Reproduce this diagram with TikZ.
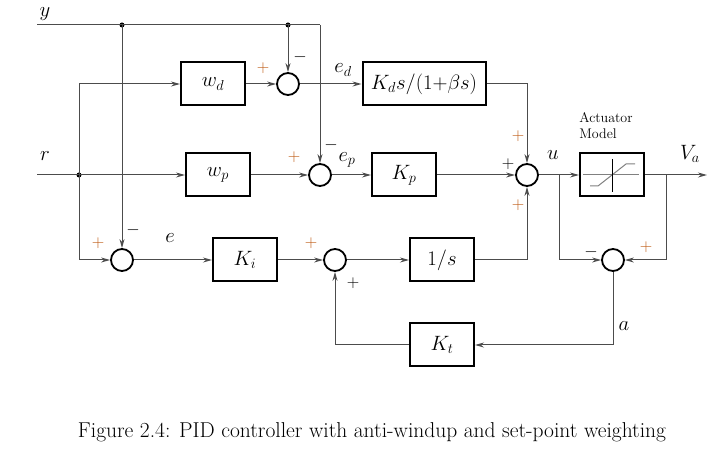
\documentclass[tikz,border=0pt]{standalone}
\usepackage{tikz}
\usetikzlibrary{arrows.meta}
\definecolor{plusc}{RGB}{190,90,20}
\tikzset{
  blk/.style={draw, line width=2pt, minimum width=64pt, minimum height=43pt, inner sep=0pt, font=\fontsize{22}{24}\selectfont},
  sm/.style={draw, line width=1.8pt, circle, minimum size=22pt, inner sep=0pt},
  sig/.style={draw=black!70, line width=1pt, -{Stealth[length=9pt,width=5pt]}},
  wire/.style={draw=black!70, line width=1pt},
  pl/.style={text=plusc, font=\fontsize{17}{19}\selectfont},
  mi/.style={font=\fontsize{17}{19}\selectfont},
  lbl/.style={font=\fontsize{22}{24}\selectfont}
}
\begin{document}
\begin{tikzpicture}[x=1pt,y=-1pt]
   \useasboundingbox (0,0) rectangle (716,454);

   % blocks
   \node[blk] (wd) at (213,84) {$w_d$};
   \node[blk, minimum width=123pt] (kd) at (424,84) {$K_d s/(1{+}\beta s)$};
   \node[blk] (wp) at (218,175) {$w_p$};
   \node[blk] (kp) at (404,175) {$K_p$};
   \node[blk] (act) at (612,175) {};
   \node[blk] (ki) at (245,260) {$K_i$};
   \node[blk] (integ) at (442,260) {$1/s$};
   \node[blk] (kt) at (442,345) {$K_t$};

   % saturation symbol
   \draw[black!50, line width=1pt] (act.west) ++(4,0) -- ++(56,0);
   \draw[black!50, line width=1pt] (590,186) -- (598,186) -- (626,164) -- (635,164);
   \draw[line width=1pt] (612,159) -- (612,192);

   % summing points
   \node[sm] (s1) at (288,84) {};
   \node[sm] (s2) at (320,175) {};
   \node[sm] (s4) at (527,175) {};
   \node[sm] (se) at (122,260) {};
   \node[sm] (si) at (335,260) {};
   \node[sm] (sa) at (613,260) {};

   % signal points
   \coordinate (yin) at (37,25);
   \coordinate (y1) at (122,25);
   \coordinate (y2) at (288,25);
   \coordinate (y3) at (320,25);
   \coordinate (rin) at (37,175);
   \coordinate (r1) at (79,175);
   \coordinate (uu) at (559,175);
   \coordinate (va) at (666,175);
   \coordinate (vout) at (707,175);
   \fill (y1) circle (2.5) (y2) circle (2.5) (r1) circle (2.5);

   % connections
   \draw[wire] (yin) -- (y3);
   \draw[sig] (y3) -- (s2);
   \draw[sig] (y2) -- (s1);
   \draw[sig] (y1) -- (se);
   \draw[sig] (r1 |- wd) -- (wd);
   \draw[wire] (r1 |- wd) -- (r1 |- se);
   \draw[sig] (r1 |- se) -- (se);
   \draw[wire] (rin) -- (r1);
   \draw[sig] (r1) -- (wp);
   \draw[sig] (wd) -- (s1);
   \draw[sig] (s1) -- (kd);
   \draw[sig] (wp) -- (s2);
   \draw[sig] (s2) -- (kp);
   \draw[sig] (kd) -| (s4);
   \draw[sig] (kp) -- (s4);
   \draw[sig] (integ) -| (s4);
   \draw[sig] (se) -- (ki);
   \draw[sig] (ki) -- (si);
   \draw[sig] (si) -- (integ);
   \draw[sig] (s4) -- (act);
   \draw[sig] (act) -- (vout);
   \draw[sig] (uu) |- (sa);
   \draw[sig] (va) |- (sa);
   \draw[sig] (sa) |- (kt);
   \draw[sig] (kt) -| (si);

   % labels
   \node[lbl] at (45,14) {$y$};
   \node[lbl] at (45,156) {$r$};
   \node[lbl] at (343,70) {$e_d$};
   \node[lbl] at (347,160) {$e_p$};
   \node[lbl] at (170,238) {$e$};
   \node[lbl] at (553,155) {$u$};
   \node[lbl] at (690,154) {$V_a$};
   \node[lbl] at (624,326) {$a$};
   \node[align=left, font=\fontsize{14}{16}\selectfont, inner sep=0pt] at (606,126) {Actuator\\Model};

   % signs
   \node[pl] at (263,68) {$+$};
   \node[mi] at (300,57) {$-$};
   \node[pl] at (294,157) {$+$};
   \node[mi] at (331,145) {$-$};
   \node[pl] at (518,136) {$+$};
   \node[mi] at (508,164) {$+$};
   \node[pl] at (518,205) {$+$};
   \node[pl] at (98,243) {$+$};
   \node[mi] at (133,230) {$-$};
   \node[pl] at (311,243) {$+$};
   \node[mi] at (353,283) {$+$};
   \node[mi] at (591,252) {$-$};
   \node[pl] at (646,247) {$+$};

   % caption
   \node[font=\fontsize{21.5}{24}\selectfont] at (372,432) {Figure 2.4: PID controller with anti-windup and set-point weighting};
\end{tikzpicture}
\end{document}
